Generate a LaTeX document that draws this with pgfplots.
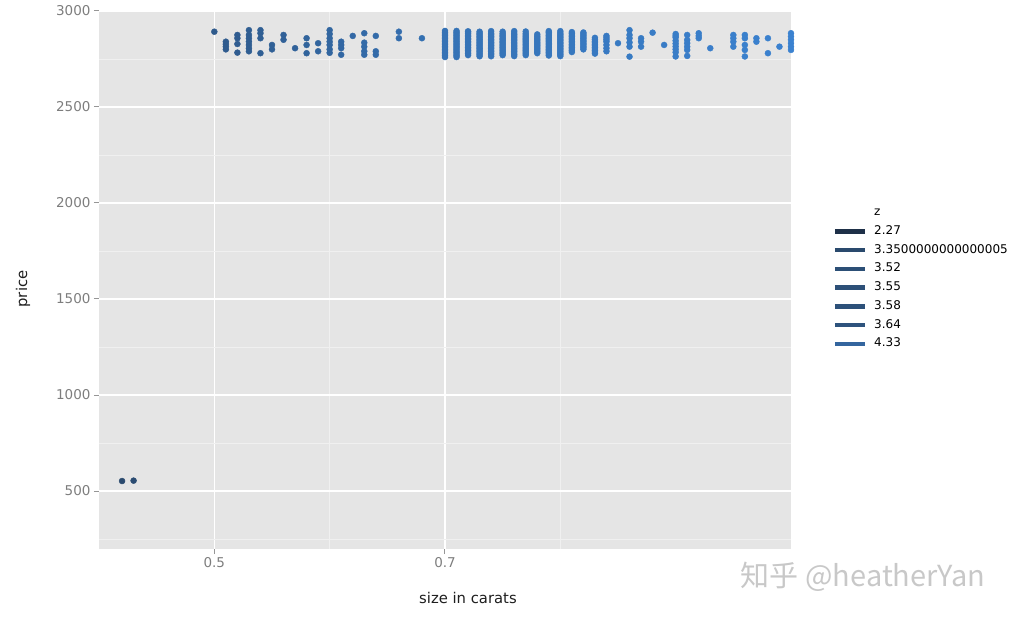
\documentclass[border=0pt]{standalone}
\usepackage{pgfplots}
\pgfplotsset{compat=1.18}
\usepackage{fontspec}
\setmainfont{DejaVu Sans}
\newfontfamily\cjk{Noto Sans CJK SC}
\definecolor{panel}{RGB}{229,229,229}
\definecolor{minorgrid}{RGB}{240,240,240}
\definecolor{tickgray}{RGB}{125,125,125}
\definecolor{tickline}{RGB}{150,150,150}
\definecolor{labcol}{RGB}{30,30,30}
\definecolor{zA}{RGB}{30,48,72}
\definecolor{zB}{RGB}{42,74,109}
\definecolor{zC}{RGB}{44,79,118}
\definecolor{zD}{RGB}{45,80,120}
\definecolor{zE}{RGB}{45,81,122}
\definecolor{zF}{RGB}{46,83,125}
\definecolor{zG}{RGB}{52,101,158}
\definecolor{wm}{RGB}{200,200,200}
\begin{document}
\begin{tikzpicture}
\path[use as bounding box] (0,0) rectangle (1018pt,-618pt);
\begin{axis}[
  at={(99pt,-549pt)}, anchor=south west,
  scale only axis, width=692pt, height=539pt,
  xmin=0.4, xmax=1.0, ymin=198, ymax=3005,
  xtick={0.5,0.7}, minor xtick={0.6,0.8},
  xticklabels={0.5,0.7},
  ytick={500,1000,1500,2000,2500,3000},
  minor ytick={250,750,1250,1750,2250,2750},
  xtick pos=bottom, ytick pos=left,
  grid=both,
  major grid style={white, line width=1.5pt},
  minor grid style={minorgrid, line width=0.6pt},
  axis background/.style={fill=panel},
  axis line style={draw=none},
  tick align=outside,
  major tick length=5pt, minor tick length=0pt,
  major tick style={tickline, line width=1pt},
  /pgf/number format/assume math mode=true,
  /pgf/number format/1000 sep={},
  ticklabel style={font=\fontsize{13.5}{16}\selectfont, text=tickgray},
  xlabel={size in carats}, ylabel={price},
  label style={font=\fontsize{14.8}{17}\selectfont, text=labcol},
  xlabel style={at={(axis description cs:0.5332,-0.0909)}, anchor=center},
  ylabel style={at={(axis description cs:-0.1098,0.4824)}, anchor=center},
  colormap={zmap}{rgb255(0pt)=(43,74,110); rgb255(8pt)=(47,90,140); rgb255(28pt)=(53,114,181); rgb255(58pt)=(59,130,208)},
  point meta min=0.42, point meta max=1.0,
  clip=true,
  legend cell align=left,
  legend image code/.code={\draw[line width=4.5pt,#1] (0pt,0pt) -- (30pt,0pt);},
  legend style={at={(axis description cs:1.0600,0.6358)}, anchor=north west,
    draw=none, fill=none, inner sep=0pt, row sep=6.75pt, column sep=7pt,
    font=\fontsize{12}{14}\selectfont,
    nodes={inner sep=0pt, text height=9pt, text depth=3pt}},
]
\addplot[scatter, only marks, mark=*, mark size=3pt, point meta=x, forget plot,
  scatter/use mapped color={draw=mapped color, fill=mapped color}] coordinates {
(0.42,552)(0.43,554)
(0.50,2892)
(0.51,2840)(0.51,2827)(0.51,2814)(0.51,2800)
(0.52,2875)(0.52,2858)(0.52,2828)(0.52,2783)
(0.53,2900)(0.53,2875)(0.53,2858)(0.53,2840)(0.53,2823)(0.53,2806)(0.53,2790)
(0.54,2900)(0.54,2884)(0.54,2858)(0.54,2780)
(0.55,2823)(0.55,2800)
(0.56,2875)(0.56,2850)
(0.57,2806)
(0.58,2858)(0.58,2823)(0.58,2780)
(0.59,2832)(0.59,2790)
(0.60,2900)(0.60,2880)(0.60,2858)(0.60,2840)(0.60,2823)(0.60,2800)(0.60,2782)
(0.61,2840)(0.61,2823)(0.61,2806)(0.61,2772)
(0.62,2870)
(0.63,2884)(0.63,2835)(0.63,2814)(0.63,2790)(0.63,2772)
(0.64,2870)(0.64,2790)(0.64,2772)
(0.66,2892)(0.66,2858)
(0.68,2858)
(0.70,2760)(0.70,2768)(0.70,2776)(0.70,2784)(0.70,2792)(0.70,2800)(0.70,2808)(0.70,2816)(0.70,2824)(0.70,2832)(0.70,2840)(0.70,2848)(0.70,2856)(0.70,2864)(0.70,2872)(0.70,2880)(0.70,2888)(0.70,2896)
(0.71,2760)(0.71,2768)(0.71,2776)(0.71,2784)(0.71,2792)(0.71,2800)(0.71,2808)(0.71,2816)(0.71,2824)(0.71,2832)(0.71,2840)(0.71,2848)(0.71,2856)(0.71,2864)(0.71,2872)(0.71,2880)(0.71,2888)(0.71,2896)
(0.72,2770)(0.72,2778)(0.72,2786)(0.72,2794)(0.72,2802)(0.72,2810)(0.72,2818)(0.72,2826)(0.72,2834)(0.72,2842)(0.72,2850)(0.72,2858)(0.72,2866)(0.72,2874)(0.72,2882)(0.72,2890)(0.72,2894)
(0.73,2764)(0.73,2772)(0.73,2780)(0.73,2788)(0.73,2796)(0.73,2804)(0.73,2812)(0.73,2820)(0.73,2828)(0.73,2836)(0.73,2844)(0.73,2852)(0.73,2860)(0.73,2868)(0.73,2876)(0.73,2884)(0.73,2892)
(0.74,2764)(0.74,2772)(0.74,2780)(0.74,2788)(0.74,2796)(0.74,2804)(0.74,2812)(0.74,2820)(0.74,2828)(0.74,2836)(0.74,2844)(0.74,2852)(0.74,2860)(0.74,2868)(0.74,2876)(0.74,2884)(0.74,2895)
(0.75,2770)(0.75,2778)(0.75,2786)(0.75,2794)(0.75,2802)(0.75,2810)(0.75,2818)(0.75,2826)(0.75,2834)(0.75,2842)(0.75,2850)(0.75,2858)(0.75,2866)(0.75,2874)(0.75,2882)(0.75,2892)
(0.76,2765)(0.76,2773)(0.76,2781)(0.76,2789)(0.76,2797)(0.76,2805)(0.76,2813)(0.76,2821)(0.76,2829)(0.76,2837)(0.76,2845)(0.76,2853)(0.76,2861)(0.76,2869)(0.76,2877)(0.76,2885)(0.76,2895)
(0.77,2770)(0.77,2778)(0.77,2786)(0.77,2794)(0.77,2802)(0.77,2810)(0.77,2818)(0.77,2826)(0.77,2834)(0.77,2842)(0.77,2850)(0.77,2858)(0.77,2866)(0.77,2874)(0.77,2882)(0.77,2893)
(0.78,2780)(0.78,2788)(0.78,2796)(0.78,2804)(0.78,2812)(0.78,2820)(0.78,2828)(0.78,2836)(0.78,2844)(0.78,2852)(0.78,2860)(0.78,2868)(0.78,2878)
(0.79,2768)(0.79,2776)(0.79,2784)(0.79,2792)(0.79,2800)(0.79,2808)(0.79,2816)(0.79,2824)(0.79,2832)(0.79,2840)(0.79,2848)(0.79,2856)(0.79,2864)(0.79,2872)(0.79,2880)(0.79,2888)(0.79,2895)
(0.80,2765)(0.80,2773)(0.80,2781)(0.80,2789)(0.80,2797)(0.80,2805)(0.80,2813)(0.80,2821)(0.80,2829)(0.80,2837)(0.80,2845)(0.80,2853)(0.80,2861)(0.80,2869)(0.80,2877)(0.80,2885)(0.80,2895)
(0.81,2786)(0.81,2794)(0.81,2802)(0.81,2810)(0.81,2818)(0.81,2826)(0.81,2834)(0.81,2842)(0.81,2850)(0.81,2858)(0.81,2866)(0.81,2874)(0.81,2882)(0.81,2890)
(0.82,2800)(0.82,2808)(0.82,2816)(0.82,2824)(0.82,2832)(0.82,2840)(0.82,2848)(0.82,2856)(0.82,2864)(0.82,2872)(0.82,2880)(0.82,2888)
(0.83,2778)(0.83,2786)(0.83,2794)(0.83,2802)(0.83,2810)(0.83,2818)(0.83,2826)(0.83,2834)(0.83,2842)(0.83,2850)(0.83,2860)
(0.84,2870)(0.84,2860)(0.84,2850)(0.84,2840)(0.84,2823)(0.84,2806)(0.84,2790)
(0.85,2832)
(0.86,2900)(0.86,2875)(0.86,2858)(0.86,2836)(0.86,2814)(0.86,2762)
(0.87,2858)(0.87,2840)(0.87,2814)
(0.88,2887)
(0.89,2823)
(0.90,2880)(0.90,2870)(0.90,2862)(0.90,2845)(0.90,2830)(0.90,2815)(0.90,2800)(0.90,2785)(0.90,2763)
(0.91,2875)(0.91,2849)(0.91,2832)(0.91,2814)(0.91,2797)(0.91,2766)
(0.92,2884)(0.92,2870)(0.92,2858)
(0.93,2806)
(0.95,2875)(0.95,2858)(0.95,2840)(0.95,2814)
(0.96,2875)(0.96,2858)(0.96,2823)(0.96,2797)(0.96,2763)
(0.97,2858)(0.97,2840)
(0.98,2858)(0.98,2780)
(0.99,2814)
(1.00,2884)(1.00,2867)(1.00,2850)(1.00,2832)(1.00,2814)(1.00,2797)
};
\addlegendimage{empty legend}\addlegendentry{z}
\addlegendimage{zA}\addlegendentry{2.27}
\addlegendimage{zB}\addlegendentry{3.3500000000000005}
\addlegendimage{zC}\addlegendentry{3.52}
\addlegendimage{zD}\addlegendentry{3.55}
\addlegendimage{zE}\addlegendentry{3.58}
\addlegendimage{zF}\addlegendentry{3.64}
\addlegendimage{zG}\addlegendentry{4.33}
\end{axis}
\node[text=wm, font=\cjk\fontsize{29}{32}\selectfont, anchor=center, inner sep=0pt] at (863pt,-577pt) {知乎 @heatherYan};
\end{tikzpicture}
\end{document}
